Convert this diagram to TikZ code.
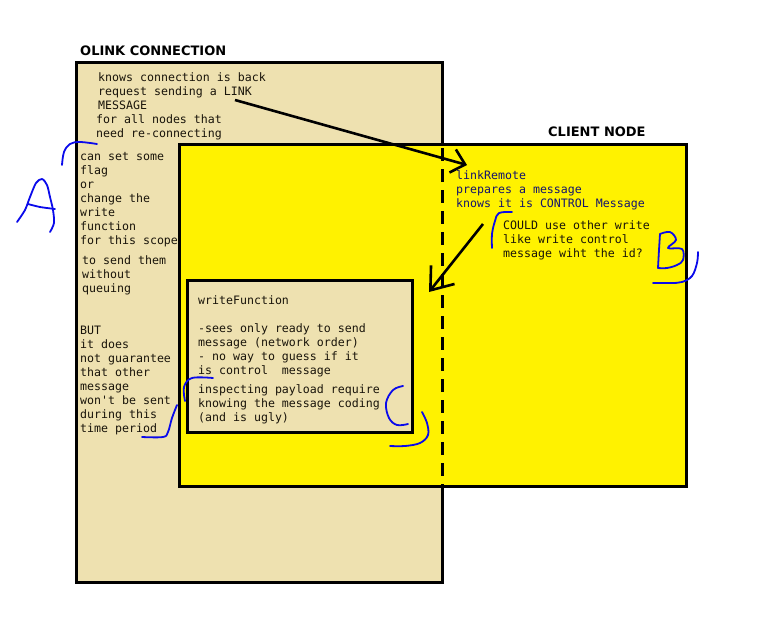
\documentclass[tikz,border=0pt]{standalone}
\usepackage{fontspec}
\setmonofont{DejaVu Sans Mono}
\newfontfamily\titlefont{DejaVu Sans}
\usetikzlibrary{arrows.meta}
\definecolor{tanbg}{RGB}{238,225,176}
\definecolor{ybg}{RGB}{255,242,0}
\definecolor{inkblue}{RGB}{10,10,235}
\definecolor{navytxt}{RGB}{20,20,110}
\definecolor{darktxt}{RGB}{25,20,10}
\tikzset{
  box/.style={draw=black, line width=3pt},
  mono/.style={anchor=base west, inner sep=0pt, font=\ttfamily\fontsize{11.6}{14}\selectfont, text=darktxt},
  navy/.style={mono, text=navytxt},
  ttl/.style={anchor=base west, inner sep=0pt, font=\titlefont\bfseries\fontsize{13}{15}\selectfont},
  conn/.style={line width=2.6pt, -{Straight Barb[length=13pt,width=24pt,line width=2.6pt]}},
  pen/.style={draw=inkblue, line width=1.8pt, line cap=round, line join=round},
}
\begin{document}
\begin{tikzpicture}[x=1pt,y=-1pt]
\useasboundingbox[fill=white] (0,0) rectangle (780,633);
% boxes
\draw[box, fill=tanbg] (76,62) rectangle (442,582);
\draw[box, fill=ybg] (179,144) rectangle (686,486);
\draw[line width=3pt, dash pattern=on 13pt off 8pt] (442,148) -- (442,486);
\draw[box, fill=tanbg] (187,280) rectangle (412,432);
% titles
\node[ttl] (tolink) at (80,55) {OLINK CONNECTION};
\node[ttl] (tclient) at (548,136) {CLIENT NODE};
% olink top text
\node[mono] (o1) at (98,81) {knows connection is back};
\node[mono] (o2) at (98,95) {request sending a LINK};
\node[mono] (o3) at (98,109) {MESSAGE};
\node[mono] (o4) at (96,123) {for all nodes that};
\node[mono] (o5) at (96,137) {need re-connecting};
% left column
\node[mono] (l1) at (80,160) {can set some};
\node[mono] (l2) at (80,174) {flag};
\node[mono] (l3) at (80,188) {or};
\node[mono] (l4) at (80,202) {change the};
\node[mono] (l5) at (80,216) {write};
\node[mono] (l6) at (80,230) {function};
\node[mono] (l7) at (80,244) {for this scope};
\node[mono] (l8) at (82,264) {to send them};
\node[mono] (l9) at (82,278) {without};
\node[mono] (l10) at (82,292) {queuing};
\node[mono] (b1) at (80,334) {BUT};
\node[mono] (b2) at (80,348) {it does};
\node[mono] (b3) at (80,362) {not guarantee};
\node[mono] (b4) at (80,376) {that other};
\node[mono] (b5) at (80,390) {message};
\node[mono] (b6) at (80,404) {won't be sent};
\node[mono] (b7) at (80,418) {during this};
\node[mono] (b8) at (80,432) {time period};
% client text
\node[navy] (c1) at (456,179) {linkRemote};
\node[navy] (c2) at (456,193) {prepares a message};
\node[navy] (c3) at (456,207) {knows it is CONTROL Message};
\node[mono] (d1) at (503,229) {COULD use other write};
\node[mono] (d2) at (503,243) {like write control};
\node[mono] (d3) at (503,257) {message wiht the id?};
% write function text
\node[mono] (w1) at (198,304) {writeFunction};
\node[mono] (w2) at (198,332) {-sees only ready to send};
\node[mono] (w3) at (198,346) {message (network order)};
\node[mono] (w4) at (198,360) {- no way to guess if it};
\node[mono] (w5) at (198,374) {is control\ \ message};
\node[mono] (w6) at (198,393) {inspecting payload require};
\node[mono] (w7) at (198,407) {knowing the message coding};
\node[mono] (w8) at (198,421) {(and is ugly)};
% connectors
\coordinate (a1s) at (235,100);
\coordinate (a1e) at (467,165);
\coordinate (a2s) at (483,224);
\coordinate (a2e) at (429,292);
\draw[conn] (a1s) -- (a1e);
\draw[conn, -{Straight Barb[length=20pt,width=30pt,line width=2.6pt]}] (a2s) -- (a2e);
% hand-drawn blue marks
\draw[pen] plot[smooth, tension=0.6] coordinates {(62,165) (64,152) (70,144) (80,142) (97,144)};
\draw[pen] plot[smooth, tension=0.5] coordinates {(17,222) (25,210) (30,197) (36,183) (42,179) (47,185) (50,197) (53,210) (54,223) (50,232)};
\draw[pen] plot[smooth, tension=0.5] coordinates {(28,204) (40,207) (55,209)};
\draw[pen] plot[smooth, tension=0.6] coordinates {(512,212) (499,213) (495,221) (492,234) (492,248)};
\draw[pen] plot[smooth, tension=0.5] coordinates {(660,234) (659,250) (658,268)};
\draw[pen] plot[smooth, tension=0.6] coordinates {(660,234) (670,232) (676,240) (668,248) (682,249) (683,260) (677,265) (667,268) (658,268)};
\draw[pen] plot[smooth, tension=0.6] coordinates {(653,283) (670,283) (682,282) (692,276) (697,263) (698,252)};
\draw[pen] plot[smooth, tension=0.6] coordinates {(213,378) (192,378) (184,387) (185,401)};
\draw[pen] plot[smooth, tension=0.6] coordinates {(403,386) (393,390) (386,403) (389,418) (397,425) (408,424)};
\draw[pen] plot[smooth, tension=0.6] coordinates {(422,412) (427,423) (428,435) (420,443) (405,446) (390,446)};
\draw[pen] plot[smooth, tension=0.6] coordinates {(177,405) (172,418) (168,432) (163,437) (142,437)};
\end{tikzpicture}
\end{document}
